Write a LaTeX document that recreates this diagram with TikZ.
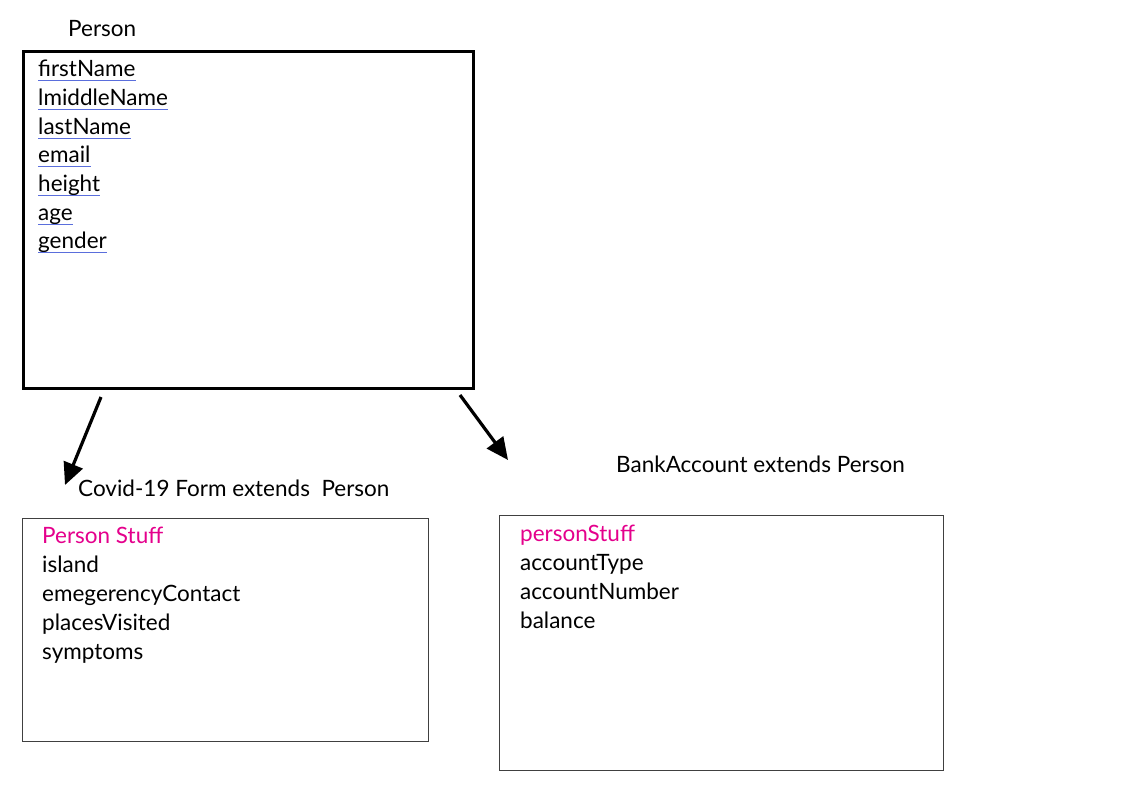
\documentclass[tikz,border=0pt]{standalone}
\usepackage{fontspec}
\setmainfont{Lato}
\usetikzlibrary{arrows.meta}
\definecolor{pinkish}{RGB}{228,0,140}
\definecolor{ulblue}{RGB}{90,110,220}
\begin{document}
\begin{tikzpicture}[x=1pt,y=-1pt,
  txt/.style={anchor=west,inner sep=0pt,text height=14pt,text depth=4.5pt,font=\fontsize{22.5}{26}\selectfont},
  pk/.style={txt,text=pinkish},
  bigbox/.style={draw,line width=2.5pt},
  smallbox/.style={draw=black!75,line width=1.2pt},
  arr/.style={line width=3.2pt,-{Triangle[length=22pt,width=20pt]}}]
\useasboundingbox (0,0) rectangle (1141,796);
\node[bigbox,minimum width=450,minimum height=337,anchor=north west,inner sep=0] (person) at (22,50) {};
\node[smallbox,minimum width=406,minimum height=223,anchor=north west,inner sep=0] (covid) at (22,518) {};
\node[smallbox,minimum width=444,minimum height=255,anchor=north west,inner sep=0] (bank) at (499,515) {};
\node[txt] (tperson) at (68,32) {Person};
\node[txt] (tcovid) at (78,492) {Covid-19 Form extends\ \ Person};
\node[txt] (tbank) at (616,468) {BankAccount extends Person};
\foreach \t [count=\i] in {firstName,lmiddleName,lastName,email,height,age,gender}{
  \node[txt] (p\i) at (38,{72+28.7*(\i-1)}) {\t};
  \draw[ulblue,line width=1pt] ([yshift=-4pt]p\i.base west) -- ([yshift=-4pt]p\i.base east);
}
\node[pk] (c1) at (42,539) {Person Stuff};
\foreach \t [count=\i] in {island,emegerencyContact,placesVisited,symptoms}
  \node[txt] (c\i x) at (42,{568+29*(\i-1)}) {\t};
\node[pk] (b1) at (520,537) {personStuff};
\foreach \t [count=\i] in {accountType,accountNumber,balance}
  \node[txt] (b\i x) at (520,{566+29*(\i-1)}) {\t};
\coordinate (a1s) at (101,397); \coordinate (a1e) at (65,485);
\coordinate (a2s) at (460,395); \coordinate (a2e) at (508,460);
\draw[arr] (a1s) -- (a1e);
\draw[arr] (a2s) -- (a2e);
\end{tikzpicture}
\end{document}
